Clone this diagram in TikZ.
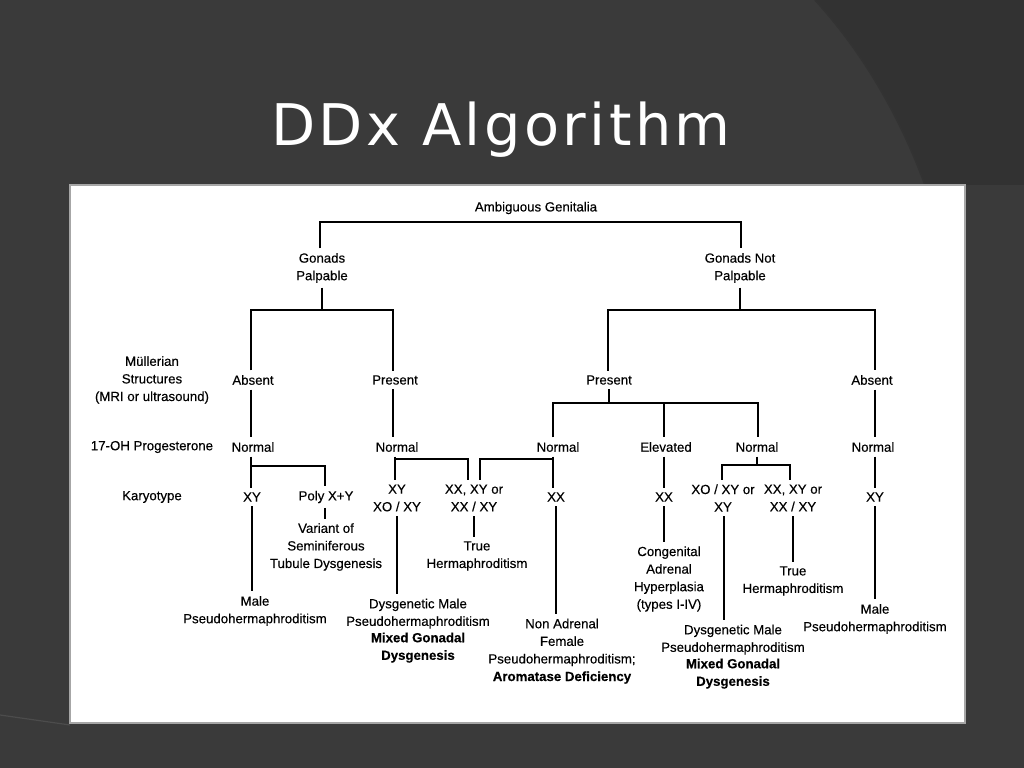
\documentclass[tikz,border=0pt]{standalone}
\usepackage{fontspec}
\setmainfont{Liberation Sans}[FakeBold=0.6]
\newfontfamily\titlefont{DejaVu Sans}[LetterSpace=6]
\begin{document}
\begin{tikzpicture}[x=0.03cm,y=-0.03cm,
  lbl/.style={inner sep=0pt,outer sep=4pt,align=center,font=\fontsize{11.3}{15}\selectfont\addfontfeature{FakeBold=0.3}},
  ln/.style={line width=1.6pt,black}]
\definecolor{bg}{HTML}{3A3A3A}
\definecolor{bgd}{HTML}{323232}
\useasboundingbox (0,0) rectangle (1024,768);
\fill[bg] (0,0) rectangle (1024,768);
\fill[bgd] (815,0) .. controls (870,60) and (905,130) .. (925,185) -- (1024,185) -- (1024,0) -- cycle;
\draw[black!80,line width=1.5pt] (815,0) .. controls (870,60) and (905,130) .. (925,185);
\draw[black!70,line width=1pt] (0,715) -- (70,725);
\node[text=white,font=\titlefont\fontsize{49}{55}\selectfont] (title) at (501,130) {DDx Algorithm};
\fill[white,draw=gray!70,line width=1.5pt] (70,185) rectangle (965,723);
% headers
\node[lbl] (ag) at (536,208) {Ambiguous Genitalia};
\node[lbl] (gp) at (322,268) {Gonads\\Palpable};
\node[lbl] (gn) at (740,268) {Gonads Not\\Palpable};
\node[lbl] (mu) at (152,380) {Müllerian\\Structures\\(MRI or ultrasound)};
\node[lbl] (oh) at (152,447) {17-OH Progesterone};
\node[lbl] (ka) at (152,497) {Karyotype};
% row 1
\node[lbl] (a1) at (253,380) {Absent};
\node[lbl] (p1) at (395,380) {Present};
\node[lbl] (p2) at (609,380) {Present};
\node[lbl] (a2) at (872,380) {Absent};
% row 2
\node[lbl] (n1) at (253,447) {Normal};
\node[lbl] (n2) at (397,447) {Normal};
\node[lbl] (n3) at (558,447) {Normal};
\node[lbl] (el) at (666,447) {Elevated};
\node[lbl] (n4) at (757,447) {Normal};
\node[lbl] (n5) at (873,447) {Normal};
% row 3
\node[lbl] (k1) at (252,497) {XY};
\node[lbl] (k2) at (326,497) {Poly X+Y};
\node[lbl] (k3) at (397,498) {XY\\XO / XY};
\node[lbl] (k4) at (474,498) {XX, XY or\\XX / XY};
\node[lbl] (k5) at (556,497) {XX};
\node[lbl] (k6) at (664,497) {XX};
\node[lbl] (k7) at (723,498) {XO / XY or\\XY};
\node[lbl] (k8) at (793,498) {XX, XY or\\XX / XY};
\node[lbl] (k9) at (875,497) {XY};
% outcomes
\node[lbl] (o1) at (255,611) {Male\\Pseudohermaphroditism};
\node[lbl] (o2) at (326,547) {Variant of\\Seminiferous\\Tubule Dysgenesis};
\node[lbl,anchor=north] (o3) at (418,594) {Dysgenetic Male\\Pseudohermaphroditism\\[-1pt]{\bfseries Mixed Gonadal}\\{\bfseries Dysgenesis}};
\node[lbl] (o4) at (477,556) {True\\Hermaphroditism};
\node[lbl,anchor=north] (o5) at (562,614) {Non Adrenal\\Female\\Pseudohermaphroditism;\\{\bfseries Aromatase Deficiency}};
\node[lbl] (o6) at (669,579) {Congenital\\Adrenal\\Hyperplasia\\(types I-IV)};
\node[lbl,anchor=north] (o7) at (733,620) {Dysgenetic Male\\Pseudohermaphroditism\\[-1pt]{\bfseries Mixed Gonadal}\\{\bfseries Dysgenesis}};
\node[lbl] (o8) at (793,581) {True\\Hermaphroditism};
\node[lbl] (o9) at (875,619) {Male\\Pseudohermaphroditism};
% connectors
\draw[ln] (gp.north -| 320,0) -- (320,222) -- (741,222) -- (gn.north -| 741,0);
\draw[ln] (gp.south) -- (322,310);
\draw[ln] (a1.north -| 251,0) -- (251,310) -- (393,310) -- (p1.north -| 393,0);
\draw[ln] (gn.south) -- (740,310);
\draw[ln] (p2.north -| 608,0) -- (608,310) -- (875,310) -- (a2.north -| 875,0);
\draw[ln] (a1.south -| 251,0) -- (n1.north -| 251,0);
\draw[ln] (p1.south -| 393,0) -- (n2.north -| 393,0);
\draw[ln] (p2.south) -- (609,403);
\draw[ln] (n3.north -| 553,0) -- (553,403) -- (758,403) -- (n4.north -| 758,0);
\draw[ln] (664,403) -- (el.north -| 664,0);
\draw[ln] (a2.south -| 875,0) -- (n5.north -| 875,0);
\draw[ln] (n1.south -| 251,0) -- (k1.north -| 251,0);
\draw[ln] (251,466) -- (325,466) -- (k2.north -| 325,0);
\draw[ln] (n2.south -| 395,0) -- (k3.north -| 395,0);
\draw[ln] (395,459) -- (468,459) -- (k4.north -| 468,0);
\draw[ln] (k4.north -| 480,0) -- (480,459) -- (553,459);
\draw[ln] (n3.south -| 553,0) -- (k5.north -| 553,0);
\draw[ln] (el.south -| 664,0) -- (k6.north -| 664,0);
\draw[ln] (n4.south -| 757,0) -- (757,465);
\draw[ln] (k7.north -| 722,0) -- (722,465) -- (790,465) -- (k8.north -| 790,0);
\draw[ln] (n5.south -| 875,0) -- (k9.north -| 875,0);
\draw[ln] (k1.south) -- (o1.north -| k1.south);
\draw[ln] (k2.south -| 325,0) -- (o2.north -| 325,0);
\draw[ln] (k3.south -| 397,0) -- (o3.north -| 397,0);
\draw[ln] (k4.south -| 474,0) -- (o4.north -| 474,0);
\draw[ln] (k5.south -| 556,0) -- (o5.north -| 556,0);
\draw[ln] (k6.south -| 664,0) -- (o6.north -| 664,0);
\draw[ln] (k7.south -| 724,0) -- (o7.north -| 724,0);
\draw[ln] (k8.south -| 793,0) -- (o8.north -| 793,0);
\draw[ln] (k9.south -| 875,0) -- (o9.north -| 875,0);
\end{tikzpicture}
\end{document}
